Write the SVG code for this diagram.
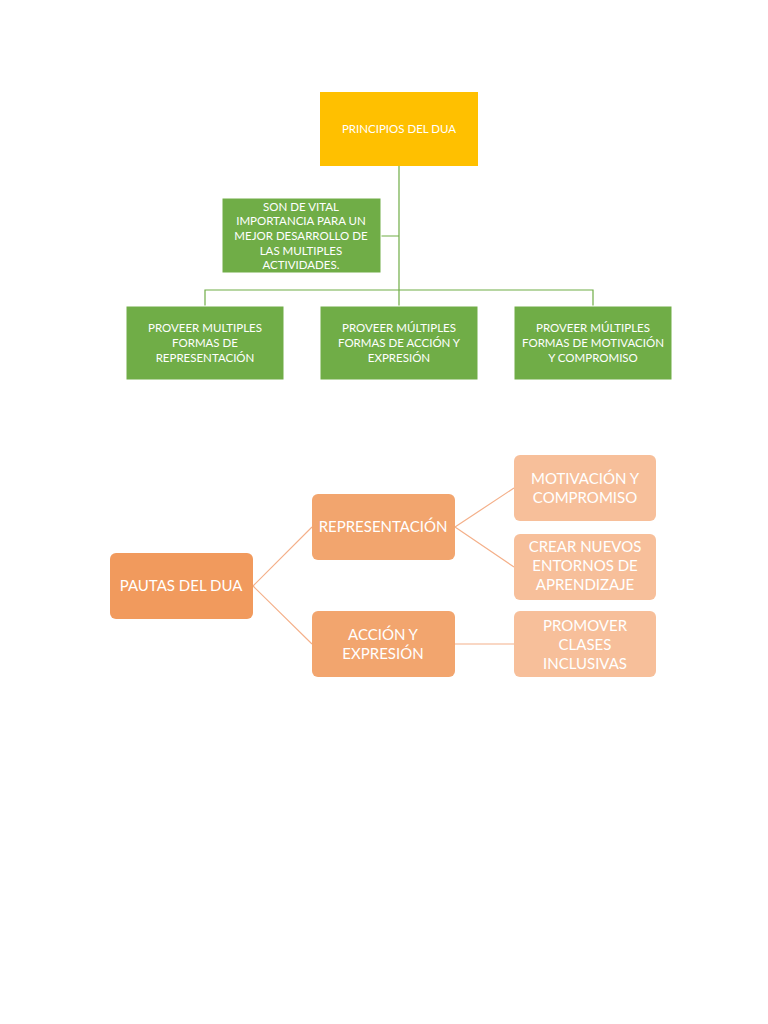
<svg xmlns="http://www.w3.org/2000/svg" width="768" height="1024" viewBox="0 0 768 1024">
<style>
.t{font-family:Lato,"Open Sans","Liberation Sans",sans-serif;fill:#fff;text-anchor:middle}
.s{font-size:11.5px}.b{font-size:15px}
.g{fill:#70AD47;stroke:#fff;stroke-width:1}
.gl{stroke:#70AD47;stroke-width:1.2;fill:none}
.ol{stroke:#F4B08A;stroke-width:1.2;fill:none}
</style>
<rect width="768" height="1024" fill="#fff"/>
<g id="connectors">
<path class="gl" d="M399 166V290M205 306V290H593V306M399 290V306M381 236H399"/>
<path class="ol" d="M253 586L312 527M253 586L312 644M455 527L514 488M455 527L514 567M455 644H514"/>
</g>
<g id="principios"><rect x="320" y="92" width="158" height="74" fill="#FFC000"/><text class="t s" x="399" y="133">PRINCIPIOS DEL DUA</text></g>
<g id="nota"><rect class="g" x="222" y="198" width="159" height="75"/>
<text class="t s" x="301" y="211">SON DE VITAL</text><text class="t s" x="301" y="225">IMPORTANCIA PARA UN</text><text class="t s" x="301" y="240">MEJOR DESARROLLO DE</text><text class="t s" x="301" y="255">LAS MULTIPLES</text><text class="t s" x="301" y="269">ACTIVIDADES.</text></g>
<g id="p1"><rect class="g" x="126" y="306" width="158" height="74"/><text class="t s" x="205" y="332">PROVEER MULTIPLES</text><text class="t s" x="205" y="347">FORMAS DE</text><text class="t s" x="205" y="362">REPRESENTACIÓN</text></g>
<g id="p2"><rect class="g" x="320" y="306" width="158" height="74"/><text class="t s" x="399" y="332">PROVEER MÚLTIPLES</text><text class="t s" x="399" y="347">FORMAS DE ACCIÓN Y</text><text class="t s" x="399" y="362">EXPRESIÓN</text></g>
<g id="p3"><rect class="g" x="514" y="306" width="158" height="74"/><text class="t s" x="593" y="332">PROVEER MÚLTIPLES</text><text class="t s" x="593" y="347">FORMAS DE MOTIVACIÓN</text><text class="t s" x="593" y="362">Y COMPROMISO</text></g>
<g id="pautas"><rect x="110" y="553" width="143" height="66" rx="6" fill="#F19A5D"/><text class="t b" x="181" y="591">PAUTAS DEL DUA</text></g>
<g id="repr"><rect x="312" y="494" width="143" height="66" rx="6" fill="#F2A56E"/><text class="t b" x="383" y="532">REPRESENTACIÓN</text></g>
<g id="accion"><rect x="312" y="611" width="143" height="66" rx="6" fill="#F2A56E"/><text class="t b" x="383" y="640">ACCIÓN Y</text><text class="t b" x="383" y="659">EXPRESIÓN</text></g>
<g id="motiv"><rect x="514" y="455" width="142" height="66" rx="6" fill="#F7BF9A"/><text class="t b" x="585" y="484">MOTIVACIÓN Y</text><text class="t b" x="585" y="503">COMPROMISO</text></g>
<g id="crear"><rect x="514" y="534" width="142" height="66" rx="6" fill="#F7BF9A"/><text class="t b" x="585" y="552">CREAR NUEVOS</text><text class="t b" x="585" y="571">ENTORNOS DE</text><text class="t b" x="585" y="590">APRENDIZAJE</text></g>
<g id="promover"><rect x="514" y="611" width="142" height="66" rx="6" fill="#F7BF9A"/><text class="t b" x="585" y="631">PROMOVER</text><text class="t b" x="585" y="650">CLASES</text><text class="t b" x="585" y="669">INCLUSIVAS</text></g>
</svg>
